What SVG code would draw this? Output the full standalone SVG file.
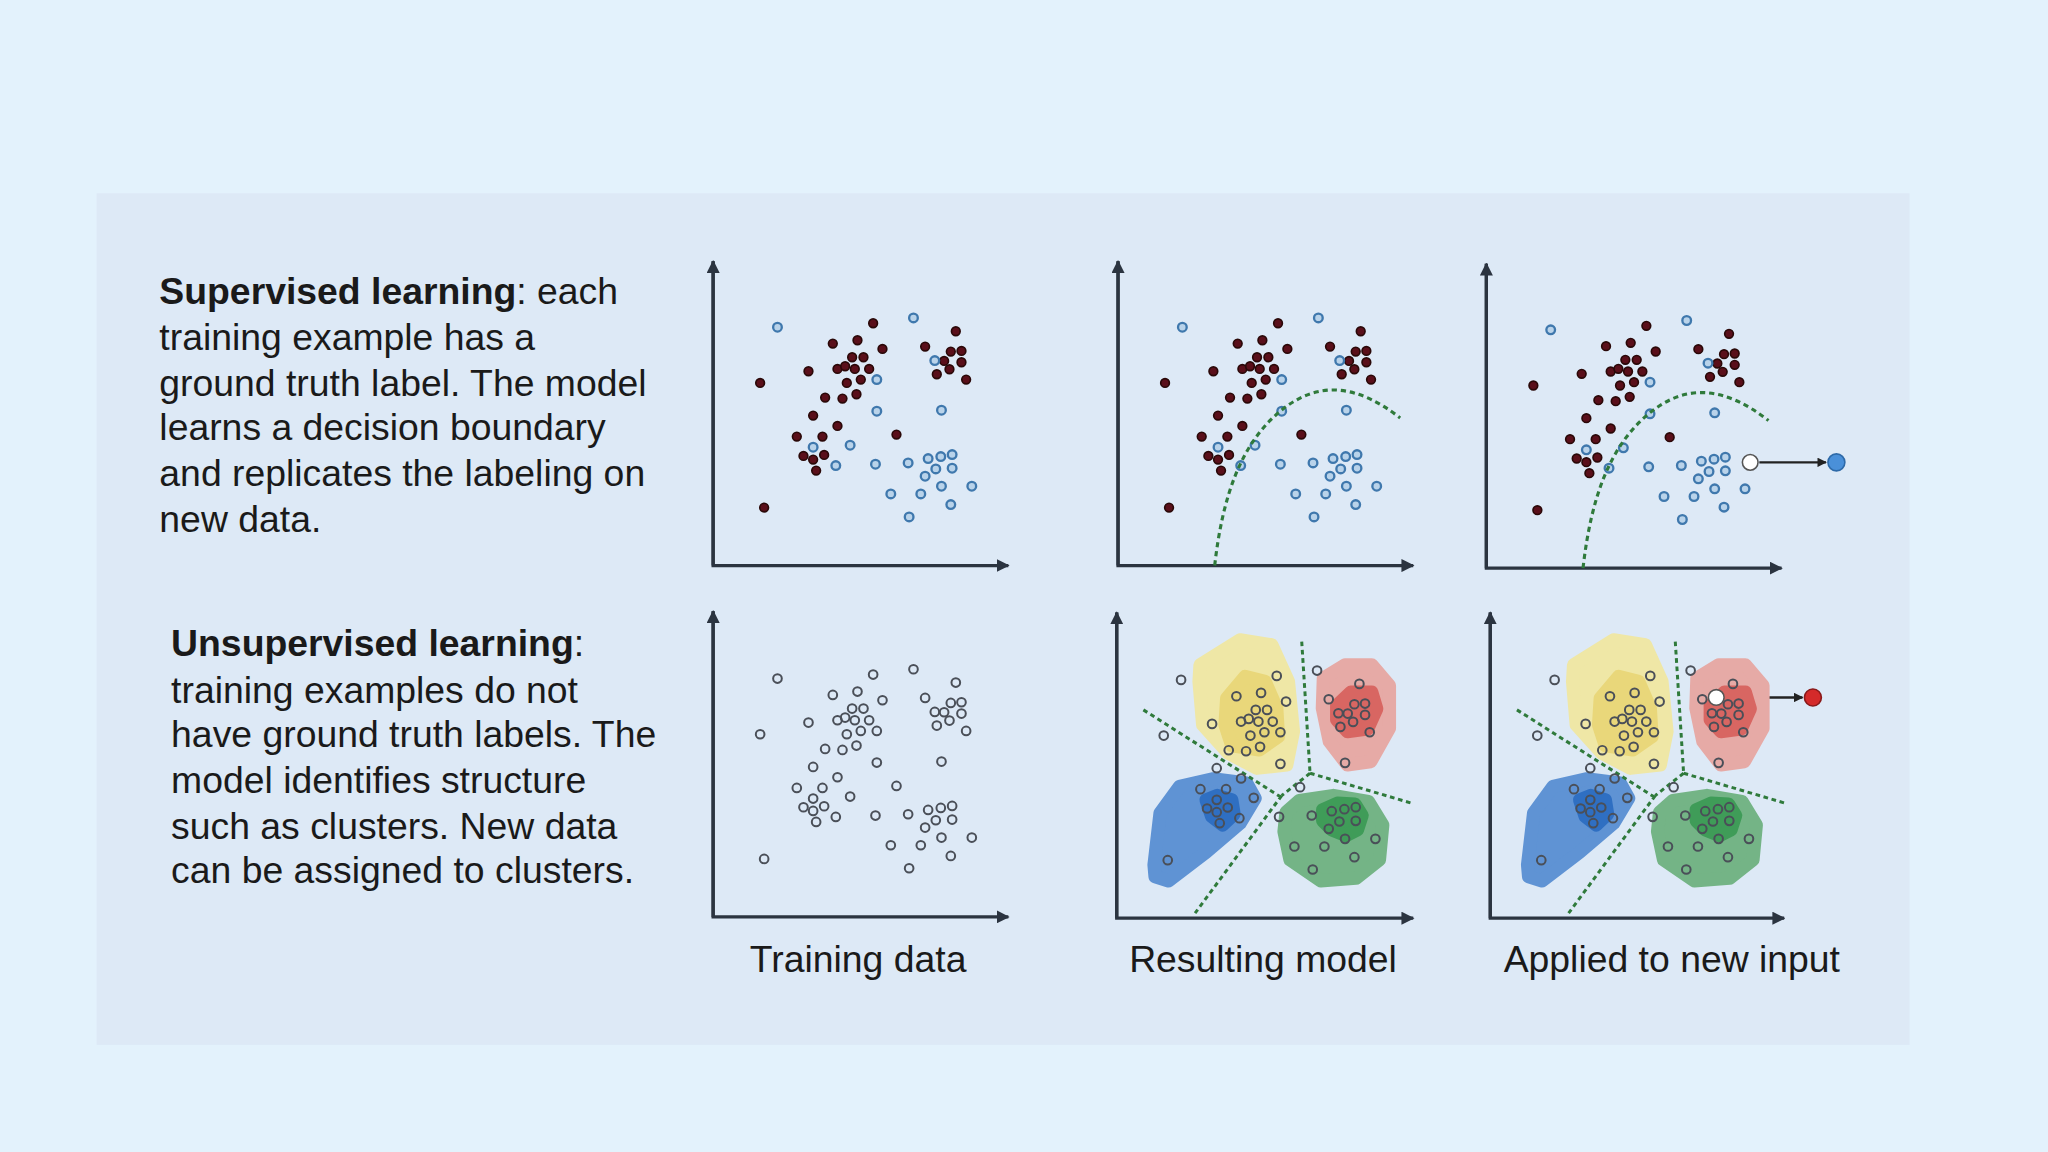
<svg xmlns="http://www.w3.org/2000/svg" xmlns:xlink="http://www.w3.org/1999/xlink" width="2048" height="1152" viewBox="0 0 2048 1152">
<style>
.t{font-family:"Liberation Sans",Arial,sans-serif;font-size:28.6px;fill:#1a1a1a}
.lab{font-family:"Liberation Sans",Arial,sans-serif;font-size:28.6px;fill:#1a1a1a;text-anchor:middle}
.ax{stroke:#2b3440;stroke-width:2.5;fill:none;marker-end:url(#ah)}
.dash{stroke:#2f7a3b;stroke-width:9;stroke-dasharray:14 11;fill:none}
.bl{stroke-linejoin:round;stroke-width:40}
</style>
<defs>
<marker id="ah" viewBox="0 0 10 10" refX="9" refY="5" markerWidth="4" markerHeight="4" orient="auto"><path d="M0,0L10,5L0,10z" fill="#2b3440"/></marker>
<marker id="ah2" viewBox="0 0 10 10" refX="9" refY="5" markerWidth="4" markerHeight="4" orient="auto"><path d="M0,0L10,5L0,10z" fill="#222"/></marker>
<g id="pb">
<circle cx="290" cy="265" r="13"/><circle cx="698" cy="237" r="13"/><circle cx="762" cy="365" r="13"/><circle cx="588" cy="422" r="13"/><circle cx="588" cy="517" r="13"/><circle cx="782" cy="514" r="13"/><circle cx="397" cy="625" r="13"/><circle cx="508" cy="619" r="13"/><circle cx="465" cy="680" r="13"/><circle cx="584" cy="676" r="13"/><circle cx="682" cy="672" r="13"/><circle cx="742" cy="659" r="13"/><circle cx="780" cy="653" r="13"/><circle cx="814" cy="647" r="13"/><circle cx="765" cy="690" r="13"/><circle cx="814" cy="688" r="13"/><circle cx="733" cy="712" r="13"/><circle cx="782" cy="742" r="13"/><circle cx="873" cy="742" r="13"/><circle cx="630" cy="765" r="13"/><circle cx="720" cy="765" r="13"/><circle cx="810" cy="797" r="13"/><circle cx="685" cy="834" r="13"/>
</g>
<g id="pr">
<circle cx="577" cy="253" r="13"/><circle cx="825" cy="277" r="13"/><circle cx="456" cy="314" r="13"/><circle cx="530" cy="304" r="13"/><circle cx="605" cy="330" r="13"/><circle cx="733" cy="323" r="13"/><circle cx="810" cy="338" r="13"/><circle cx="842" cy="336" r="13"/><circle cx="790" cy="366" r="13"/><circle cx="842" cy="370" r="13"/><circle cx="806" cy="391" r="13"/><circle cx="768" cy="406" r="13"/><circle cx="856" cy="422" r="13"/><circle cx="238" cy="432" r="13"/><circle cx="383" cy="397" r="13"/><circle cx="470" cy="390" r="13"/><circle cx="493" cy="382" r="13"/><circle cx="514" cy="355" r="13"/><circle cx="548" cy="355" r="13"/><circle cx="522" cy="390" r="13"/><circle cx="565" cy="390" r="13"/><circle cx="498" cy="432" r="13"/><circle cx="540" cy="422" r="13"/><circle cx="433" cy="476" r="13"/><circle cx="485" cy="479" r="13"/><circle cx="527" cy="466" r="13"/><circle cx="397" cy="530" r="13"/><circle cx="470" cy="561" r="13"/><circle cx="348" cy="593" r="13"/><circle cx="425" cy="593" r="13"/><circle cx="647" cy="587" r="13"/><circle cx="368" cy="651" r="13"/><circle cx="397" cy="662" r="13"/><circle cx="430" cy="648" r="13"/><circle cx="406" cy="695" r="13"/><circle cx="250" cy="806" r="13"/>
</g>
<g id="sup">
<use xlink:href="#pr" fill="#5a0f1a" stroke="#2a0808" stroke-width="5"/>
<use xlink:href="#pb" fill="#b9d3ea" stroke="#3f78ad" stroke-width="7"/>
</g>
<g id="uns">
<use xlink:href="#pr" fill="none" stroke="#4a4f58" stroke-width="6"/>
<use xlink:href="#pb" fill="none" stroke="#4a4f58" stroke-width="6"/>
</g>
<g id="blobs">
<polygon class="bl" fill="#efe7a6" stroke="#efe7a6" points="300,200 420,125 515,140 565,250 580,400 560,500 470,510 385,465 308,380 297,250"/>
<polygon class="bl" fill="#e9d77a" stroke="#e9d77a" points="380,300 435,235 495,250 530,330 535,415 478,455 395,442 375,380"/>
<polygon class="bl" fill="#e6aaa6" stroke="#e6aaa6" points="670,240 735,200 815,200 868,262 868,390 812,490 742,500 688,430 667,330"/>
<polygon class="bl" fill="#d86662" stroke="#d86662" points="710,322 752,282 815,282 830,332 803,392 742,400 710,365"/>
<polygon class="bl" fill="#5f93d4" stroke="#5f93d4" points="162,800 180,645 238,565 340,542 440,555 465,600 420,675 318,762 205,848 165,835"/>
<polygon class="bl" fill="#2f6fc2" stroke="#2f6fc2" points="318,605 352,592 395,605 402,648 368,680 335,655"/>
<polygon class="bl" fill="#74b486" stroke="#74b486" points="558,642 598,607 700,592 805,610 848,680 838,785 768,840 662,848 570,785 552,700"/>
<polygon class="bl" fill="#3f9c58" stroke="#3f9c58" points="668,635 712,615 765,618 786,652 772,695 738,712 695,695 668,668"/>
<path class="dash" d="M130,335L540,595M605,130L630,525M630,525L935,615M630,525L545,592M545,592L285,945"/>
</g>
</defs>
<rect width="2048" height="1152" fill="#e3f2fc"/>
<g transform="scale(1.30612)">
<rect x="74" y="148" width="1388" height="652" fill="#dde9f6"/>
<g id="text-sup">
<text class="t" x="122" y="233"><tspan font-weight="bold">Supervised learning</tspan>: each</text>
<text class="t" x="122" y="268">training example has a</text>
<text class="t" x="122" y="303">ground truth label. The model</text>
<text class="t" x="122" y="337">learns a decision boundary</text>
<text class="t" x="122" y="372">and replicates the labeling on</text>
<text class="t" x="122" y="407">new data.</text>
</g>
<g id="text-uns">
<text class="t" x="131" y="502"><tspan font-weight="bold">Unsupervised learning</tspan>:</text>
<text class="t" x="131" y="538">training examples do not</text>
<text class="t" x="131" y="572">have ground truth labels. The</text>
<text class="t" x="131" y="607">model identifies structure</text>
<text class="t" x="131" y="642">such as clusters. New data</text>
<text class="t" x="131" y="676">can be assigned to clusters.</text>
</g>
<g id="connectors">
<path class="ax" d="M546,200L546,433L772,433"/>
<path class="ax" d="M546,433L546,200"/>
<path class="ax" d="M856,200L856,433L1082,433"/>
<path class="ax" d="M856,433L856,200"/>
<path class="ax" d="M1138,202L1138,435L1364,435"/>
<path class="ax" d="M1138,435L1138,202"/>
<path class="ax" d="M546,468L546,702L772,702"/>
<path class="ax" d="M546,702L546,468"/>
<path class="ax" d="M855,469L855,703L1082,703"/>
<path class="ax" d="M855,703L855,469"/>
<path class="ax" d="M1141,469L1141,703L1366,703"/>
<path class="ax" d="M1141,703L1141,469"/>
<path d="M1347,354L1398,354" stroke="#222" stroke-width="1.8" marker-end="url(#ah2)"/>
<path d="M1321,534L1380,534" stroke="#222" stroke-width="1.8" marker-end="url(#ah2)"/>
</g>
<g id="plot-sup-train"><use xlink:href="#sup" transform="translate(546,433) scale(0.2552) translate(-97,-980)"/></g>
<g id="plot-sup-model">
<use xlink:href="#sup" transform="translate(856,433) scale(0.2552) translate(-97,-980)"/>
<path d="M930,433C936,380 950,340 980,315C1010,290 1040,295 1072,320" stroke="#2f7a3b" stroke-width="2.4" stroke-dasharray="4 3" fill="none"/>
</g>
<g id="plot-sup-apply">
<use xlink:href="#sup" transform="translate(1138,435) scale(0.2552) translate(-97,-980)"/>
<path d="M1212,435C1218,382 1232,342 1262,317C1292,292 1322,297 1354,322" stroke="#2f7a3b" stroke-width="2.4" stroke-dasharray="4 3" fill="none"/>
<circle cx="1340" cy="354" r="6" fill="#fff" stroke="#555" stroke-width="1.2"/>
<circle cx="1406" cy="354" r="6.5" fill="#4a90d9" stroke="#2e6aa8" stroke-width="1.2"/>
</g>
<g id="plot-uns-train"><use xlink:href="#uns" transform="translate(546,702) scale(0.2552) translate(-97,-980)"/></g>
<g id="plot-uns-model">
<use xlink:href="#blobs" transform="translate(855,703) scale(0.2552) translate(-50,-960)"/>
<use xlink:href="#uns" transform="translate(855,703) scale(0.2552) translate(-97,-980)"/>
</g>
<g id="plot-uns-apply">
<use xlink:href="#blobs" transform="translate(1141,703) scale(0.2552) translate(-50,-960)"/>
<use xlink:href="#uns" transform="translate(1141,703) scale(0.2552) translate(-97,-980)"/>
<circle cx="1314" cy="534" r="6" fill="#fff" stroke="#555" stroke-width="1.2"/>
<circle cx="1388" cy="534" r="6.5" fill="#d42a2a" stroke="#8a1a1a" stroke-width="1.2"/>
</g>
<g id="labels">
<text class="lab" x="657" y="744">Training data</text>
<text class="lab" x="967" y="744">Resulting model</text>
<text class="lab" x="1280" y="744">Applied to new input</text>
</g>
</g>
</svg>
